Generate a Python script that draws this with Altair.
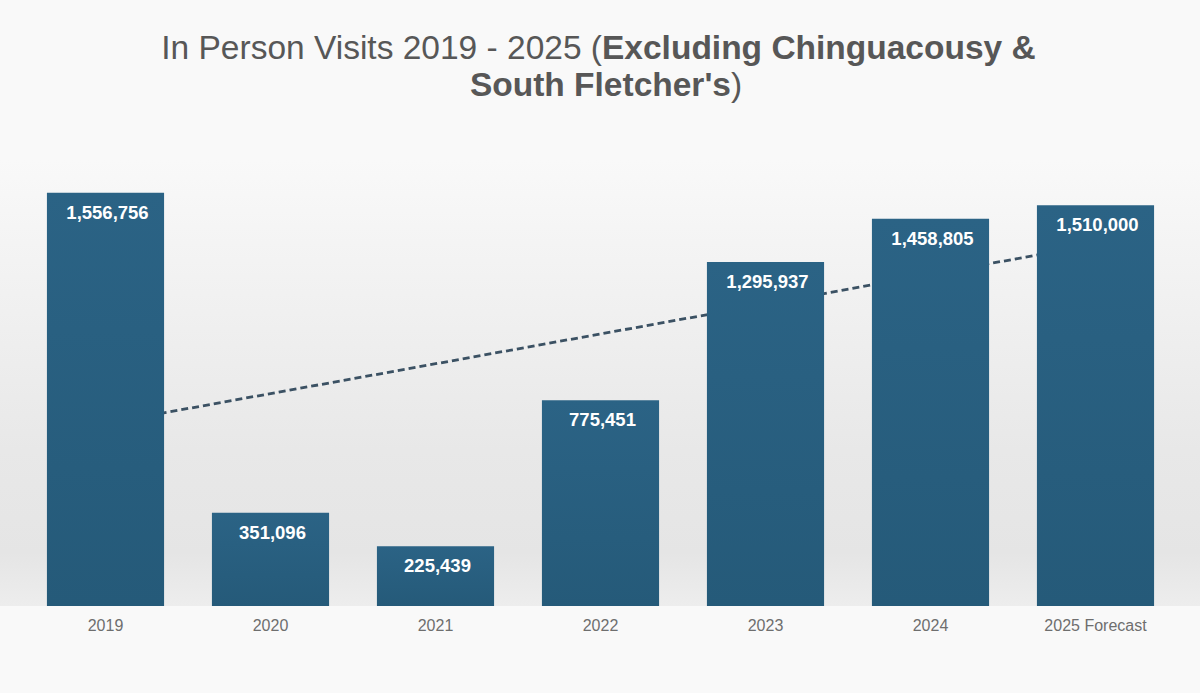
import altair as alt
import pandas as pd
import numpy as np

years = ["2019", "2020", "2021", "2022", "2023", "2024", "2025 Forecast"]
visits = [1556756, 351096, 225439, 775451, 1295937, 1458805, 1510000]
value_labels = ["1,556,756", "351,096", "225,439", "775,451", "1,295,937", "1,458,805", "1,510,000"]

title_l1_normal = "In Person Visits 2019 - 2025 ("
title_l1_bold = "Excluding Chinguacousy &"
title_l2_bold = "South Fletcher's"
title_l2_normal = ")"

df = pd.DataFrame({"year": years, "visits": visits, "label": value_labels})

# linear trendline (least squares over category index), as Excel draws it
idx = np.arange(len(visits))
slope, intercept = np.polyfit(idx, np.array(visits, dtype=float), 1)
trend_df = pd.DataFrame({
    "year": [years[0], years[-1]],
    "trend": [intercept + slope * idx[0], intercept + slope * idx[-1]],
})

W, H = 1155, 446
FONT = "Liberation Sans"

x_enc = alt.X("year:N", sort=years,
              scale=alt.Scale(paddingInner=0.29, paddingOuter=0.145),
              axis=alt.Axis(title=None, labelAngle=0, ticks=False, domain=False,
                            labelFontSize=16, labelColor="#6e6e6e", labelFont=FONT,
                            labelPadding=11, grid=False))
y_scale = alt.Scale(domain=[0, 1680000], nice=False, zero=True)

one = alt.Data(values=[{"k": 1}])

bg = alt.Chart(one).mark_rect(
    fill=alt.Gradient(gradient="linear", x1=0, y1=0, x2=0, y2=1,
                      stops=[alt.GradientStop(color="#f9f9f9", offset=0),
                             alt.GradientStop(color="#f1f1f1", offset=0.3),
                             alt.GradientStop(color="#e8e8e8", offset=0.65),
                             alt.GradientStop(color="#e5e5e5", offset=0.88),
                             alt.GradientStop(color="#ededed", offset=1)])
).encode(x=alt.value(-23), x2=alt.value(W + 22), y=alt.value(0), y2=alt.value(H))

trend = alt.Chart(trend_df).mark_line(
    color="#3b5163", strokeDash=[7, 4], strokeWidth=2.8
).encode(x=x_enc, y=alt.Y("trend:Q", scale=y_scale, axis=None))

bars = alt.Chart(df).mark_bar(
    fill=alt.Gradient(gradient="linear", x1=0, y1=0, x2=0, y2=1,
                      stops=[alt.GradientStop(color="#2b6385", offset=0),
                             alt.GradientStop(color="#255a79", offset=1)])
).encode(x=x_enc, y=alt.Y("visits:Q", scale=y_scale, axis=None))

labels = alt.Chart(df).mark_text(
    color="white", fontWeight="bold", fontSize=18.5, font=FONT,
    baseline="alphabetic", dy=26, dx=2
).encode(x=x_enc, y=alt.Y("visits:Q", scale=y_scale, axis=None), text="label:N")

def ttl(text, x, y, align, weight):
    return alt.Chart(one).mark_text(
        text=text, align=align, baseline="alphabetic", fontSize=33.5,
        fontWeight=weight, font=FONT, color="#575757"
    ).encode(x=alt.value(x), y=alt.value(y))

t1 = ttl(title_l1_normal, 579, -101.5, "right", "normal")
t2 = ttl(title_l1_bold, 579, -101.5, "left", "bold")
t3 = ttl(title_l2_bold, 708, -64, "right", "bold")
t4 = ttl(title_l2_normal, 708, -64, "left", "normal")

chart = alt.layer(bg, trend, bars, labels, t1, t2, t3, t4).properties(
    width=W, height=H,
    autosize=alt.AutoSizeParams(type="none"),
    padding={"left": 23, "top": 160, "right": 22, "bottom": 87},
    background="#f9f9f9",
).configure_view(stroke=None)

chart.save("out.html", embed_options={"renderer": "svg", "actions": False})
